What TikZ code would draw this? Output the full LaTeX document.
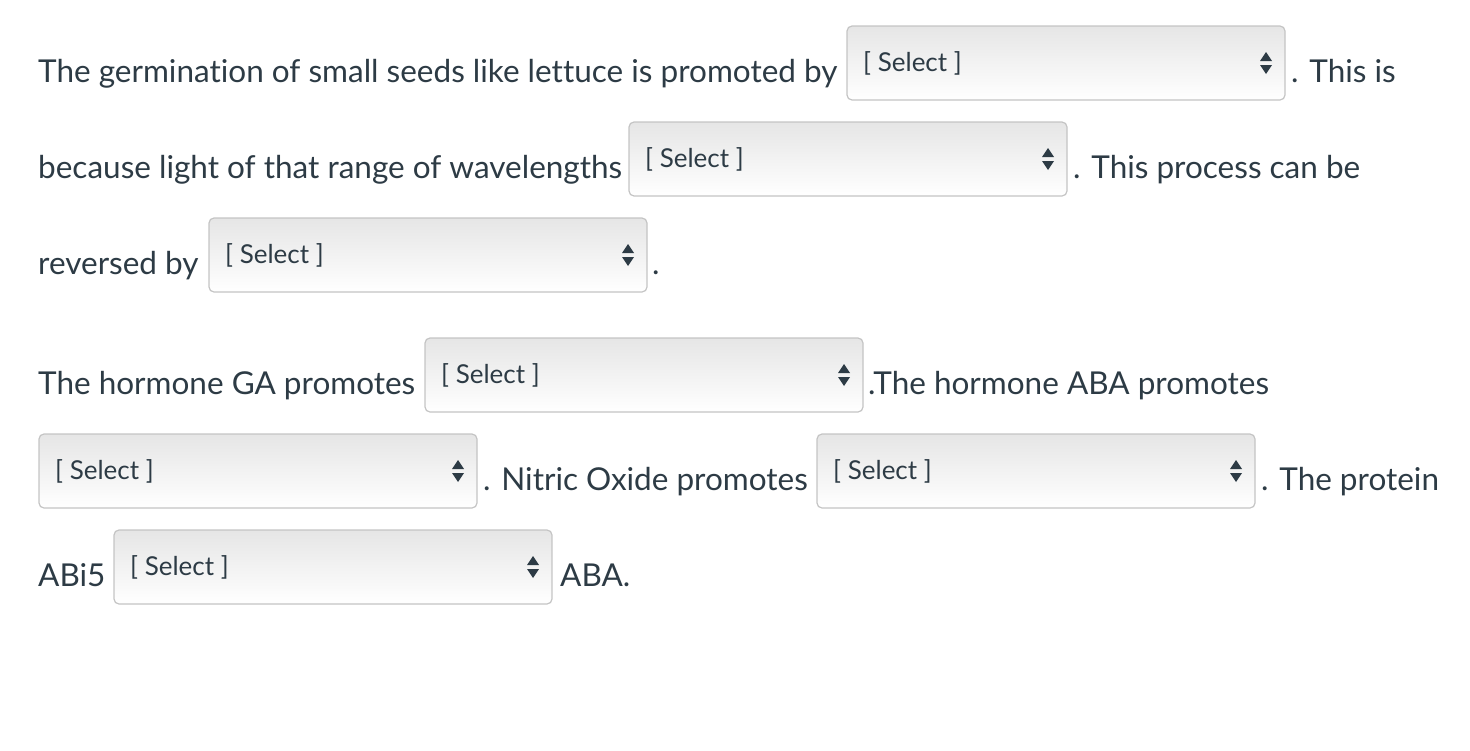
\documentclass[tikz,border=0pt]{standalone}
\usepackage{fontspec}
\setmainfont[Ligatures={NoCommon}]{Lato}
\definecolor{txt}{HTML}{2D3B45}
\definecolor{bord}{HTML}{C4C4C4}
\begin{document}
\begin{tikzpicture}[x=1pt,y=-1pt,
  t/.style={anchor=base west,inner sep=0pt,text=txt,font=\fontsize{31.5}{36}\selectfont},
  sel/.style={rounded corners=5pt,draw=bord,line width=1.2pt,top color=black!10,bottom color=white,middle color=black!5}]
\useasboundingbox (0,0) rectangle (1470,750);
\newcommand\selbox[3]{%
  \path[sel] (#1,#2) rectangle ++(438,74);
  \node[t,font=\fontsize{26}{30}\selectfont] (#3) at (#1+16,#2+45) {[ Select ]};
  \fill[txt] (#1+425,#2+35) -- ++(-12,0) -- ++(6,-9) -- cycle;
  \fill[txt] (#1+425,#2+39) -- ++(-12,0) -- ++(6,9) -- cycle;}
\node[t] (l1) at (38,82) {The germination of small seeds like lettuce is promoted by};
\selbox{847}{26}{s1}
\node[t] (e1) at (1291,82) {. This is};
\node[t] (l2) at (38,178) {because light of that range of wavelengths};
\selbox{629}{122}{s2}
\node[t] (e2) at (1073,178) {. This process can be};
\node[t] (l3) at (38,274) {reversed by};
\selbox{209}{218}{s3}
\node[t] (e3) at (652,274) {.};
\node[t] (l4) at (38,394) {The hormone GA promotes};
\selbox{425}{338}{s4}
\node[t] (e4) at (868,394) {.The hormone ABA promotes};
\selbox{39}{434}{s5}
\node[t] (e5) at (483,490) {. Nitric Oxide promotes};
\selbox{817}{434}{s6}
\node[t] (e6) at (1261,490) {. The protein};
\node[t] (l6) at (38,586) {ABi5};
\selbox{114}{530}{s7}
\node[t] (e7) at (560,586) {ABA.};
\end{tikzpicture}
\end{document}
